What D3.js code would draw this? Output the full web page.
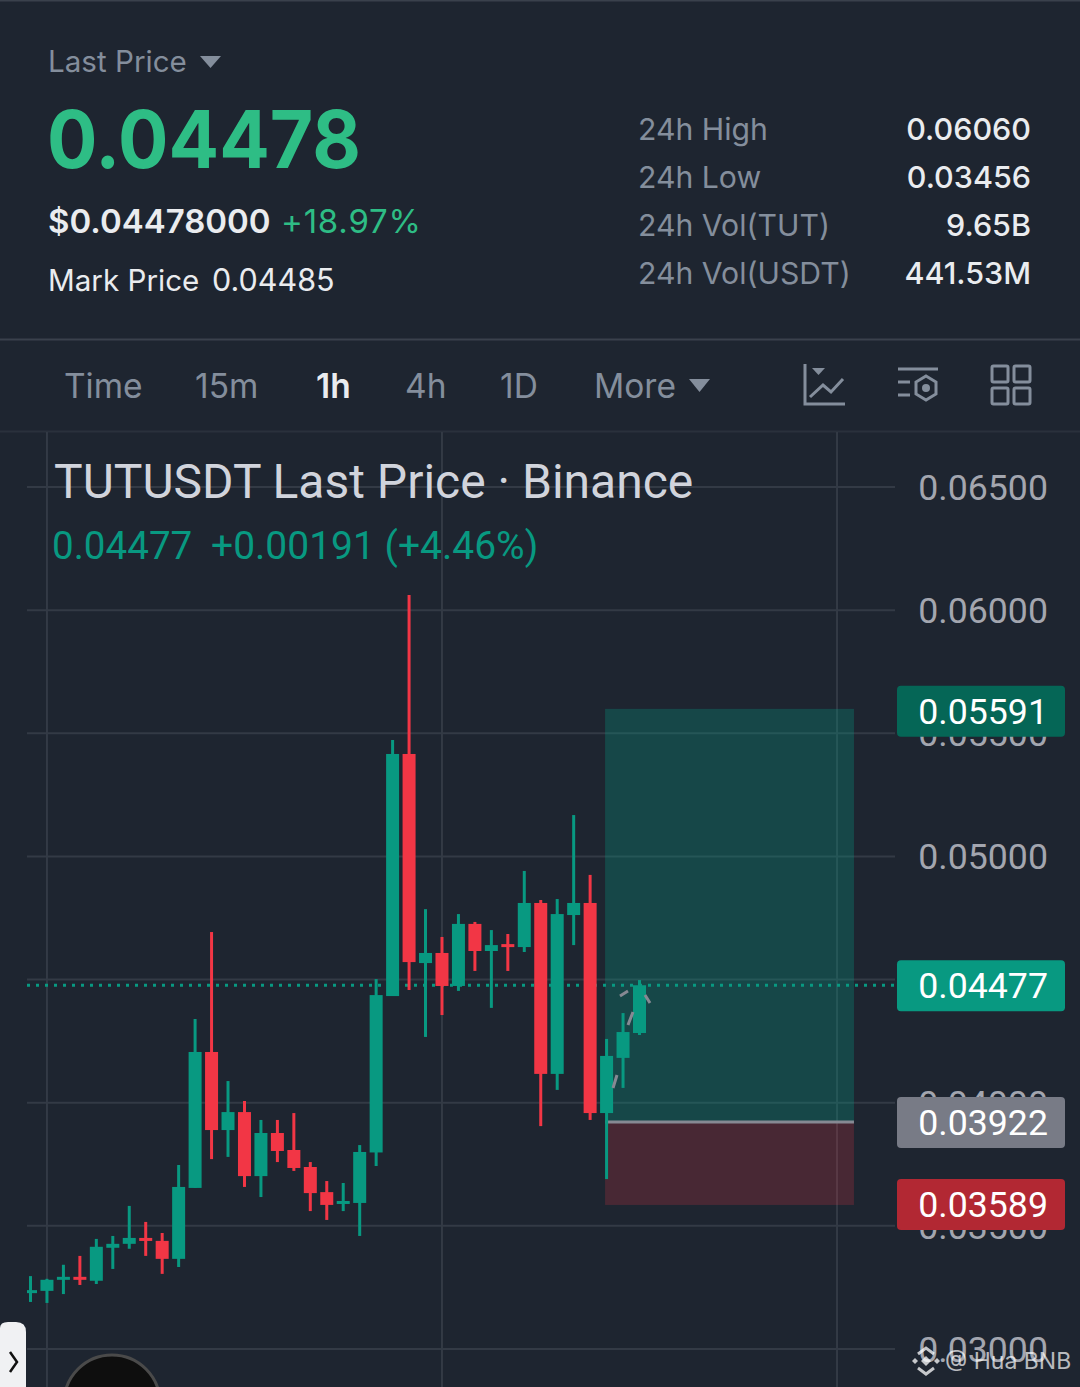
<!DOCTYPE html>
<html>
<head>
<meta charset="utf-8">
<script src="https://cdn.jsdelivr.net/npm/d3@7"></script>
<style>
  html, body { margin: 0; padding: 0; background: #1e2530; }
  svg { display: block; }
</style>
</head>
<body>
<svg id="chart"></svg>
<script>
// candles, one per hour, index = position on the time axis
var opens = [0.03227,0.03236,0.03281,0.03293,0.03277,0.03411,0.03427,0.03451,0.03439,0.03366,0.03654,0.04206,0.03889,0.03962,0.03702,0.03877,0.03808,0.03739,0.03637,0.03589,0.03593,0.03798,0.04433,0.05416,0.04567,0.04608,0.04474,0.04726,0.04616,0.04644,0.04632,0.04811,0.04117,0.04762,0.04811,0.03958,0.04182,0.04283];
var highs = [0.03296,0.03285,0.03342,0.03378,0.03447,0.03459,0.03581,0.03516,0.03471,0.03747,0.04340,0.04693,0.04088,0.04007,0.03930,0.03930,0.03958,0.03759,0.03682,0.03674,0.03828,0.04502,0.05473,0.06061,0.04786,0.04673,0.04766,0.04734,0.04701,0.04685,0.04941,0.04823,0.04827,0.05168,0.04925,0.04259,0.04364,0.04498];
var lows = [0.03191,0.03187,0.03223,0.03260,0.03264,0.03325,0.03407,0.03378,0.03305,0.03333,0.03654,0.03771,0.03780,0.03658,0.03617,0.03759,0.03723,0.03560,0.03524,0.03560,0.03459,0.03743,0.04433,0.04458,0.04267,0.04356,0.04454,0.04535,0.04385,0.04535,0.04612,0.03905,0.04052,0.04640,0.03930,0.03690,0.04060,0.04275];
var closes = [0.03239,0.03281,0.03293,0.03281,0.03415,0.03427,0.03451,0.03439,0.03366,0.03658,0.04206,0.03889,0.03962,0.03702,0.03877,0.03804,0.03735,0.03633,0.03585,0.03601,0.03800,0.04437,0.05416,0.04571,0.04608,0.04474,0.04726,0.04616,0.04640,0.04632,0.04811,0.04117,0.04766,0.04811,0.03958,0.04190,0.04287,0.04477];

var priceTicks = [0.065, 0.06, 0.055, 0.05, 0.045, 0.04, 0.035, 0.03];
var dayMarks = [1, 25, 49];
var tabs = ["Time", "15m", "1h", "4h", "1D", "More"];
var tabX = [64, 195, 316, 405, 500, 594];
var statLabels = ["24h High", "24h Low", "24h Vol(TUT)", "24h Vol(USDT)"];
var statValues = ["0.06060", "0.03456", "9.65B", "441.53M"];

// long position tool
var targetPrice = 0.05591;
var entryPrice = 0.03922;
var stopPrice = 0.03589;
var lastPrice = 0.04477;
var positionFrom = 35;
var positionTo = 50;

var config = {
  w: 1080,
  h: 1387,
  ui: "Inter, 'Noto Sans', sans-serif",
  chart: "Roboto, sans-serif",
  bg: "#1e2530",
  up: "#089981",
  down: "#f23645",
  grid: "#333a45"
};

var svg = d3.select("#chart").attr("width", config.w).attr("height", config.h);
svg.append("rect").attr("width", config.w).attr("height", config.h).attr("fill", config.bg);

// candles are cut off at the left edge of the plot
svg.append("clipPath").attr("id", "plot-clip")
  .append("rect")
  .attr("x", 27).attr("y", 432)
  .attr("width", 868).attr("height", config.h - 432);

var y = d3.scaleLinear().domain([0.03, 0.065]).range([1349, 487]);
var x = d3.scaleLinear().domain([0, 37]).range([30.5, 639.5]);
var priceFmt = d3.format(".5f");

function text(g, str, px, py, size, fill, font, weight, anchor) {
  return g.append("text")
    .attr("x", px)
    .attr("y", py)
    .attr("font-size", size)
    .attr("fill", fill)
    .attr("font-family", font)
    .attr("font-weight", weight || 400)
    .attr("text-anchor", anchor || "start")
    .text(str);
}

function drawHeader() {
  var g = svg.append("g");
  g.append("path").attr("d", "M0 0.5H1080").attr("stroke", "#3a414c").attr("stroke-width", 2);
  text(g, "Last Price", 48, 72, 29.6, "#848e9c", config.ui);
  g.append("path").attr("d", "M200 56H221L210.5 68Z").attr("fill", "#848e9c");
  text(g, "0.04478", 47, 168, 80, "#2ebd85", config.ui, 700)
    .attr("textLength", 314)
    .attr("lengthAdjust", "spacingAndGlyphs");
  text(g, "$0.04478000", 48, 233, 33, "#eaecef", config.ui, 600);
  text(g, "+18.97%", 281, 233, 33, "#2ebd85", config.ui, 400).attr("letter-spacing", 0.8);
  text(g, "Mark Price", 48, 291, 29.6, "#eaecef", config.ui);
  text(g, "0.04485", 212, 291, 30.5, "#eaecef", config.ui);

  statLabels.forEach(function(d, i) {
    var py = 140 + i * 48;
    text(g, d, 638, py, 30.2, "#848e9c", config.ui);
    text(g, statValues[i], 1031, py, 30.5, "#eaecef", config.ui, 500, "end");
  });

  g.append("path").attr("d", "M0 339.5H1080").attr("stroke", "#3a414c").attr("stroke-width", 2);
}

function drawToolbar() {
  var g = svg.append("g");
  tabs.forEach(function(d, i) {
    var active = d == "1h";
    text(g, d, tabX[i], 398, 33.5, active ? "#eaecef" : "#848e9c", config.ui, active ? 600 : 400);
  });
  g.append("path").attr("d", "M689 379H710L699.5 392Z").attr("fill", "#848e9c");

  var icons = g.append("g")
    .attr("fill", "none")
    .attr("stroke", "#848e9c")
    .attr("stroke-width", 3);
  // chart type
  icons.append("path").attr("d", "M805 364V404H845");
  icons.append("path").attr("d", "M810 397L823 385L831 392L843 379");
  g.append("path").attr("d", "M812 368H825L818.5 375Z").attr("fill", "#848e9c");
  // indicators
  icons.append("path").attr("d", "M898 369H938M898 382H910M898 395H910");
  icons.append("path").attr("d", "M926 376L936 382V394L926 400L916 394V382Z");
  g.append("circle").attr("cx", 926).attr("cy", 388).attr("r", 4).attr("fill", "#848e9c");
  // layout
  [[992, 366], [1014, 366], [992, 388], [1014, 388]].forEach(function(c) {
    icons.append("rect")
      .attr("x", c[0]).attr("y", c[1])
      .attr("width", 16).attr("height", 16)
      .attr("rx", 1.5);
  });

  g.append("path").attr("d", "M0 431.5H1080").attr("stroke", "#2a313c").attr("stroke-width", 2);
}

function drawGrid() {
  var g = svg.append("g");
  g.selectAll("line.h")
    .data(priceTicks)
    .enter().append("line")
    .attr("class", "h")
    .attr("x1", 27).attr("x2", 895)
    .attr("y1", y).attr("y2", y)
    .attr("stroke", config.grid)
    .attr("stroke-width", 2);
  g.selectAll("line.v")
    .data(dayMarks)
    .enter().append("line")
    .attr("class", "v")
    .attr("x1", x).attr("x2", x)
    .attr("y1", 432).attr("y2", config.h)
    .attr("stroke", config.grid)
    .attr("stroke-width", 2);
}

function drawPosition() {
  var g = svg.append("g");
  var x0 = x(positionFrom) - 1.5, x1 = x(positionTo) + 0.5;
  g.append("rect")
    .attr("x", x0).attr("width", x1 - x0)
    .attr("y", y(targetPrice) - 2).attr("height", y(entryPrice) - y(targetPrice) + 2)
    .attr("fill", config.up).attr("fill-opacity", 0.3);
  g.append("rect")
    .attr("x", x0).attr("width", x1 - x0)
    .attr("y", y(entryPrice)).attr("height", y(stopPrice) - y(entryPrice) + 1)
    .attr("fill", config.down).attr("fill-opacity", 0.2);
  g.append("line")
    .attr("x1", x0).attr("x2", x1)
    .attr("y1", y(entryPrice)).attr("y2", y(entryPrice))
    .attr("stroke", "#868993").attr("stroke-width", 3);
}

function drawLastLine() {
  svg.append("line")
    .attr("x1", 27).attr("x2", 895)
    .attr("y1", y(lastPrice)).attr("y2", y(lastPrice))
    .attr("stroke", config.up)
    .attr("stroke-width", 3)
    .attr("stroke-dasharray", "3 6");
}

function drawCandles() {
  var g = svg.append("g").attr("clip-path", "url(#plot-clip)");
  var bodyW = 13;
  var candles = g.selectAll("g")
    .data(d3.range(opens.length))
    .enter().append("g")
    .attr("fill", function(i) { return closes[i] >= opens[i] ? config.up : config.down; })
    .attr("stroke", function(i) { return closes[i] >= opens[i] ? config.up : config.down; });

  candles.append("line")
    .attr("x1", x).attr("x2", x)
    .attr("y1", function(i) { return y(highs[i]); })
    .attr("y2", function(i) { return y(lows[i]); })
    .attr("stroke-width", 3);

  candles.append("rect")
    .attr("x", function(i) { return x(i) - bodyW / 2; })
    .attr("width", bodyW)
    .attr("y", function(i) { return y(Math.max(opens[i], closes[i])); })
    .attr("height", function(i) { return Math.max(3, Math.abs(y(opens[i]) - y(closes[i]))); })
    .attr("stroke", "none");

  // grey dashes of the drawn arrow behind the last candles
  g.append("path")
    .attr("d", "M613 1088L617 1075M620 996L628 991M628 1025L633 1012M645 995L650 1003")
    .attr("stroke", "#868993")
    .attr("stroke-width", 3)
    .attr("fill", "none");
}

function drawAxis() {
  var g = svg.append("g");
  priceTicks.forEach(function(d) {
    text(g, priceFmt(d), 1048, y(d) + 13, 35.7, "#a3a6af", config.chart, 400, "end");
  });
}

function drawTitle() {
  var g = svg.append("g");
  text(g, "TUTUSDT Last Price · Binance", 54, 498, 48, "#d1d4dc", config.chart);
  text(g, "0.04477", 52, 559, 38.6, config.up, config.chart);
  text(g, "+0.00191 (+4.46%)", 211, 559, 39, config.up, config.chart);
}

function drawPriceTag(price, color) {
  var g = svg.append("g");
  var py = y(price);
  g.append("rect")
    .attr("x", 897).attr("y", py - 25)
    .attr("width", 168).attr("height", 51)
    .attr("rx", 4)
    .attr("fill", color);
  text(g, priceFmt(price), 1048, py + 13, 35.7, "#ffffff", config.chart, 400, "end");
}

function drawExtras() {
  var g = svg.append("g");
  // drawer tab
  g.append("path")
    .attr("d", "M0 1328Q0 1322 8 1322H16Q26 1322 26 1332V1387H0Z")
    .attr("fill", "#f0f1f3");
  g.append("path")
    .attr("d", "M10 1352L17 1362L10 1372")
    .attr("fill", "none").attr("stroke", "#111").attr("stroke-width", 2.5);
  // round button cut off by the bottom edge
  g.append("circle")
    .attr("cx", 112).attr("cy", 1403).attr("r", 48)
    .attr("fill", "#0e0e0e").attr("stroke", "#4a4a4a").attr("stroke-width", 3);

  // watermark
  var mark = g.append("g")
    .attr("fill", "none")
    .attr("stroke", "#ffffff")
    .attr("stroke-opacity", 0.75)
    .attr("stroke-width", 3);
  mark.append("path").attr("d", "M918 1354L926 1348L934 1354");
  mark.append("path").attr("d", "M918 1368L926 1374L934 1368");
  var dots = g.append("g").attr("fill", "#ffffff").attr("fill-opacity", 0.75);
  [[926, 1361, 5], [915, 1361, 3], [937, 1361, 3]].forEach(function(d) {
    dots.append("path")
      .attr("d", "M" + d[0] + " " + (d[1] - d[2]) + "l" + d[2] + " " + d[2] + "l-" + d[2] + " " + d[2] + "l-" + d[2] + " -" + d[2] + "Z");
  });
  text(g, "@ Hua BNB", 945, 1369, 23, "#ffffff", config.ui).attr("fill-opacity", 0.7);
}

drawHeader();
drawToolbar();
drawGrid();
drawPosition();
drawLastLine();
drawCandles();
drawAxis();
drawTitle();
drawPriceTag(targetPrice, "#056656");
drawPriceTag(lastPrice, config.up);
drawPriceTag(entryPrice, "#787b86");
drawPriceTag(stopPrice, "#b22833");
drawExtras();
</script>
</body>
</html>
